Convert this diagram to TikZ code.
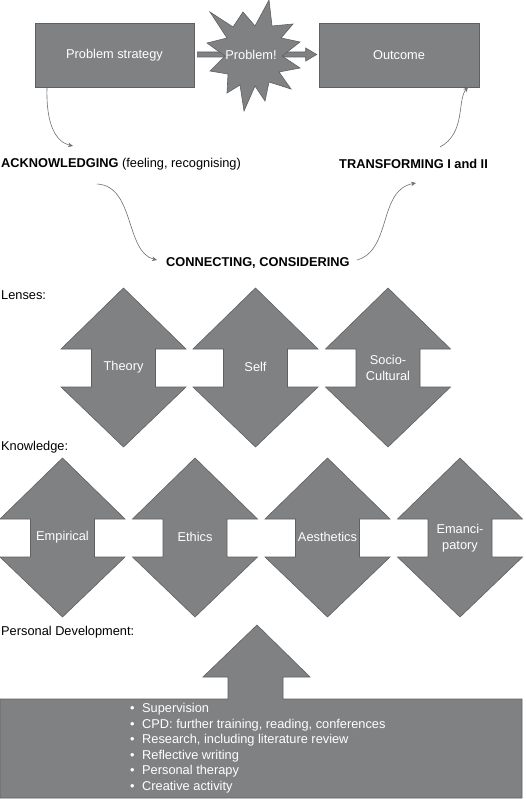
\documentclass[tikz,border=0pt]{standalone}
\usepackage{fontspec}
\setmainfont{Liberation Sans}
\usetikzlibrary{arrows.meta,calc}
\definecolor{shapegray}{RGB}{128,129,131}
\definecolor{edgegray}{RGB}{96,96,98}
\definecolor{curvegray}{RGB}{112,112,112}
\begin{document}
\begin{tikzpicture}[x=1pt,y=-1pt,
  shp/.style={fill=shapegray,draw=edgegray,line width=0.6pt},
  box/.style={shp,inner sep=0pt},
  wtxt/.style={text=white,font=\fontsize{12.8}{15.5}\selectfont,align=center,inner sep=0pt},
  lbl/.style={text=black,font=\fontsize{12.8}{15.5}\selectfont,inner sep=0pt,anchor=west},
  curv/.style={draw=curvegray,line width=0.6pt,-{Stealth[length=5pt,width=4.5pt]}},
  dbl/.pic={\path[shp] (0,-79.5) -- (62.5,-18.5) -- (32,-18.5) -- (32,19.5) -- (62.5,19.5)
     -- (0,79.5) -- (-62.5,19.5) -- (-32,19.5) -- (-32,-18.5) -- (-62.5,-18.5) -- cycle;}
]
\fill[white] (0,0) rectangle (525,799);
\useasboundingbox (0,0) rectangle (525,799);

% top row
\node[box,minimum width=159pt,minimum height=64pt,wtxt] (ps) at (114.5,55) {Problem strategy};
\node[box,minimum width=160pt,minimum height=64pt,wtxt] (out) at (399,55) {Outcome};

% thick arrow behind the star
\path[shp] ($(ps.east)+(3,-3)$) -- ($(out.west)+(-13,-3)$) -- ($(out.west)+(-13,-7)$)
  -- ($(out.west)+(-2,-0.5)$) -- ($(out.west)+(-13,6)$) -- ($(out.west)+(-13,2)$)
  -- ($(ps.east)+(3,2)$) -- cycle;

% star
\path[shp] (210,12) -- (233,27) -- (243,12) -- (255,26) -- (269,0) -- (272,26) -- (293,24)
  -- (281,38) -- (300,42) -- (282,56) -- (300,68) -- (279,72) -- (291,89) -- (269,82)
  -- (265,101) -- (255,86) -- (244,111) -- (240,85) -- (227,93) -- (228,74) -- (210,71)
  -- (225,56) -- (207,43) -- (227,38) -- cycle;
\node[wtxt] (prob) at (251,55) {Problem!};

% stage labels
\node[lbl] (ack) at (1,164) {\textbf{ACKNOWLEDGING} (feeling, recognising)};
\node[lbl] (trans) at (339,164) {\textbf{TRANSFORMING I and II}};
\node[lbl] (conn) at (166,263) {\textbf{CONNECTING, CONSIDERING}};

\coordinate (c1a) at (47,88);   \coordinate (c1b) at (73,146);
\coordinate (c2a) at (97,184);  \coordinate (c2b) at (157,260);
\coordinate (c3a) at (357,260); \coordinate (c3b) at (416,183);
\coordinate (c4a) at (440,147); \coordinate (c4b) at (468,87);
\draw[curv] (c1a) .. controls (46,125) and (56,142) .. (c1b);
\draw[curv] (c2a) .. controls (135,186) and (125,252) .. (c2b);
\draw[curv] (c3a) .. controls (392,250) and (378,190) .. (c3b);
\draw[curv] (c4a) .. controls (466,133) and (457,100) .. (c4b);

% Lenses
\node[lbl] (lenses) at (1,295) {Lenses:};
\pic at (123.5,367.5) {dbl};
\pic at (255.5,367.5) {dbl};
\pic at (388,367.5) {dbl};
\node[wtxt] (theory) at (123.5,367) {Theory};
\node[wtxt] (self) at (255.5,367) {Self};
\node[wtxt] (socio) at (388,368) {Socio-\\Cultural};

% Knowledge
\node[lbl] (know) at (1,447) {Knowledge:};
\pic at (62.5,537.5) {dbl};
\pic at (195,537.5) {dbl};
\pic at (327.5,537.5) {dbl};
\pic at (460,537.5) {dbl};
\node[wtxt] (emp) at (62.5,537) {Empirical};
\node[wtxt] (eth) at (195,537) {Ethics};
\node[wtxt] (aes) at (327.5,537) {Aesthetics};
\node[wtxt] (eman) at (460,538) {Emanci-\\patory};

% Personal development
\node[lbl] (pd) at (1,632) {Personal Development:};
\path[shp] (0,699) -- (228,699) -- (228,677) -- (203,677) -- (257,625) -- (310,677)
  -- (283,677) -- (283,699) -- (522,699) -- (522,798) -- (0,798) -- cycle;
\node[wtxt,align=left,anchor=west] (bul) at (130,748) {%
\makebox[12pt][l]{•}Supervision\\
\makebox[12pt][l]{•}CPD: further training, reading, conferences\\
\makebox[12pt][l]{•}Research, including literature review\\
\makebox[12pt][l]{•}Reflective writing\\
\makebox[12pt][l]{•}Personal therapy\\
\makebox[12pt][l]{•}Creative activity};
\end{tikzpicture}
\end{document}
